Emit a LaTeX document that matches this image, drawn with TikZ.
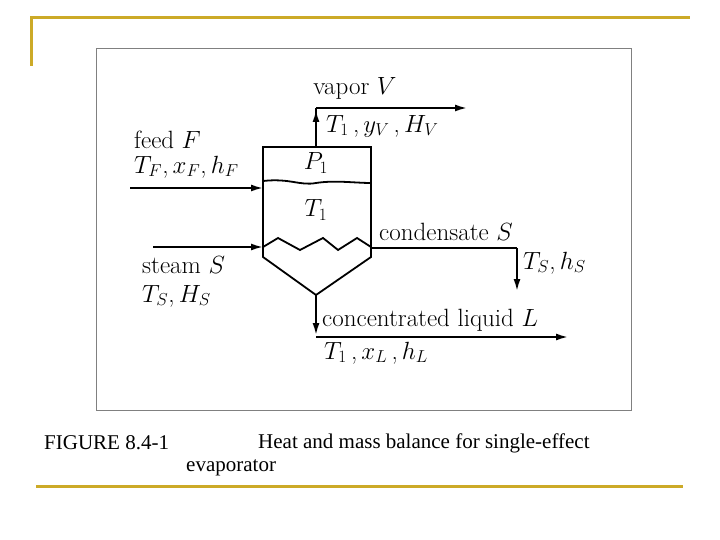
\documentclass[tikz,border=0pt]{standalone}
\usepackage{fontspec}
\usetikzlibrary{arrows.meta}
\newfontfamily\capfont{Liberation Serif}
\definecolor{goldc}{RGB}{204,170,40}
\begin{document}
\begin{tikzpicture}[x=1pt,y=-1pt,
  gold/.style={draw=goldc,line width=3pt},
  ln/.style={line width=1.8pt},
  arr/.style={ln,-{Latex[length=12pt,width=7pt]}},
  lab/.style={font=\fontsize{25}{27}\selectfont,inner sep=0pt},
  captxt/.style={font=\capfont\fontsize{21}{23}\selectfont,inner sep=0pt,anchor=west}]
\useasboundingbox (0,0) rectangle (720,540);
\fill[white] (0,0) rectangle (720,540);
\draw[gold] (30,18) -- (690,18);
\draw[gold] (31,18) -- (31,66);
\draw[gold] (36,486) -- (683,486);
\draw[gray,line width=0.8pt] (96,48) rectangle (631,410);
% vessel
\coordinate (tl) at (263,147); \coordinate (tr) at (371,147);
\coordinate (bl) at (263,257); \coordinate (br) at (371,257);
\coordinate (tip) at (316,295);
\draw[ln] (bl) -- (tl) -- (tr) -- (br) -- (tip) -- cycle;
\draw[ln] (263,181) .. controls (290,178) and (300,186) .. (316,183) .. controls (335,180) and (355,183) .. (371,183);
\draw[ln] (263,247) -- (278,238) -- (300,250) -- (323,238) -- (338,250) -- (357,238) -- (371,247);
% vapor
\coordinate (vtop) at (316,108); \coordinate (vend) at (467,108);
\draw[ln] (316,147) -- (vtop);
\draw[arr] (316,140) -- (316,110);
\draw[arr] (vtop) -- (vend);
% feed
\coordinate (fs) at (130,188); \coordinate (fe) at (263,188);
\draw[arr] (fs) -- (fe);
% steam
\coordinate (ss) at (153,247); \coordinate (se) at (263,247);
\draw[arr] (ss) -- (se);
% condensate
\coordinate (cc) at (517,248); \coordinate (ce) at (517,291);
\draw[ln] (371,248) -- (cc);
\draw[arr] (cc) -- (ce);
% liquid
\coordinate (lc) at (316,337); \coordinate (le) at (568,337);
\draw[arr] (tip) -- (316,335);
\draw[arr] (lc) -- (le);
% labels
\node[lab] (vl) at (355,88) {vapor $V$};
\node[lab,anchor=west] (vv) at (326,126) {$T_1$\,,\,$y_V$\,,\,$H_V$};
\node[lab,anchor=west] (ff) at (134,140) {feed $F$};
\node[lab,anchor=west] (fv) at (134,167) {$T_F$,\,$x_F$,\,$h_F$};
\node[lab] (p1) at (316,163) {$P_1$};
\node[lab] (t1) at (316,210) {$T_1$};
\node[lab,anchor=west] (cl) at (379,232) {condensate $S$};
\node[lab,anchor=west] (cv) at (523,263) {$T_S$,\,$h_S$};
\node[lab,anchor=west] (sl) at (142,265) {steam $S$};
\node[lab,anchor=west] (sv) at (142,296) {$T_S$,\,$H_S$};
\node[lab,anchor=west] (ll) at (322,320) {concentrated liquid $L$};
\node[lab,anchor=west] (lv) at (324,353) {$T_1$\,,\,$x_L$\,,\,$h_L$};
% caption
\node[captxt] (c1) at (44,443) {FIGURE 8.4-1};
\node[captxt] (c2) at (258,443) {Heat and mass balance for single-effect};
\node[captxt] (c3) at (186,468) {evaporator};
\end{tikzpicture}
\end{document}
